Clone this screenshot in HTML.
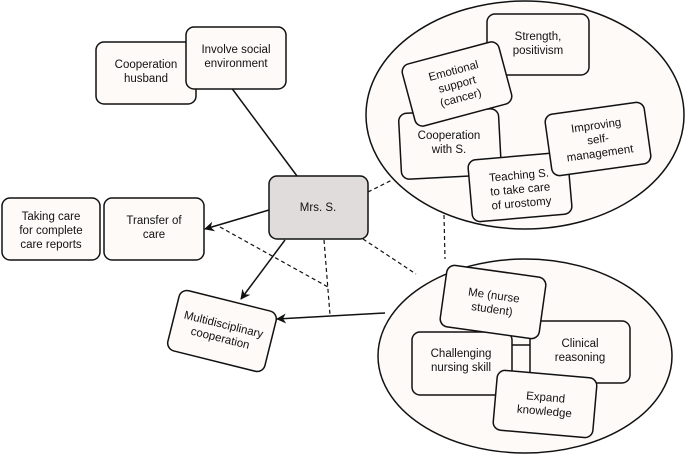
<!DOCTYPE html>
<html><head><meta charset="utf-8"><style>
html,body{margin:0;padding:0;background:#fff}
text{font-family:"Liberation Sans",Arial,sans-serif;font-size:11.5px;fill:#111;text-anchor:middle}
.b{fill:#fdfaf8;stroke:#111;stroke-width:1.5}
.l{stroke:#111;stroke-width:1.5;fill:none}
.d{stroke:#111;stroke-width:1.2;fill:none;stroke-dasharray:4,3}
</style></head><body>
<svg width="685" height="456" viewBox="0 0 685 456" xmlns="http://www.w3.org/2000/svg">
<defs><marker id="a" markerWidth="10" markerHeight="10" refX="9" refY="5" orient="auto" markerUnits="userSpaceOnUse"><path d="M0,0 L10,5 L0,10 L3,5 z" fill="#111"/></marker></defs>
<!-- ellipses -->
<ellipse cx="525" cy="115" rx="159" ry="114" class="b"/>
<ellipse cx="525" cy="356" rx="147" ry="97" class="b"/>
<!-- connectors -->
<line x1="297" y1="176" x2="219" y2="71" class="l" marker-end="url(#a)"/>
<line x1="269" y1="210" x2="205" y2="229" class="l" marker-end="url(#a)"/>
<line x1="285" y1="240" x2="241" y2="299" class="l" marker-end="url(#a)"/>
<line x1="385" y1="313" x2="277" y2="319" class="l" marker-end="url(#a)"/>
<polyline points="220,227 328,287" class="d"/>
<polyline points="324,240 330,315" class="d"/>
<polyline points="363,239 416,274" class="d"/>
<polyline points="368,192 394,179" class="d"/>
<polyline points="444,215 445,259" class="d"/>
<!-- left boxes -->
<rect x="96" y="42" width="100" height="62" rx="8" class="b"/>
<text x="146" y="68">Cooperation</text><text x="146" y="82">husband</text>
<rect x="186" y="27" width="100" height="62" rx="8" class="b"/>
<text x="236" y="53">Involve social</text><text x="236" y="67">environment</text>
<rect x="2" y="198" width="98" height="62" rx="8" class="b"/>
<text x="51" y="220">Taking care</text><text x="51" y="234">for complete</text><text x="51" y="248">care reports</text>
<rect x="104" y="198" width="100" height="62" rx="8" class="b"/>
<text x="154" y="224">Transfer of</text><text x="154" y="238">care</text>
<rect x="269" y="176" width="99" height="63" rx="8" fill="#e0dcdc" stroke="#111" stroke-width="1.5"/>
<text x="318" y="211">Mrs. S.</text>
<g transform="translate(222,331) rotate(14)">
<rect x="-50" y="-31" width="100" height="62" rx="8" class="b"/>
<text x="0" y="-3">Multidisciplinary</text><text x="0" y="11">cooperation</text></g>
<!-- ellipse 1 boxes -->
<rect x="487" y="14" width="102" height="61" rx="8" class="b"/>
<text x="538" y="40">Strength,</text><text x="538" y="54">positivism</text>
<rect x="400" y="111" width="100" height="66" rx="8" class="b" transform="rotate(-3 450 144)"/>
<text x="449" y="139">Cooperation</text><text x="449" y="153">with S.</text>
<g transform="translate(457,84) rotate(-15)">
<rect x="-50" y="-32" width="100" height="64" rx="8" class="b"/>
<text x="0" y="-10">Emotional</text><text x="0" y="4">support</text><text x="0" y="18">(cancer)</text></g>
<g transform="translate(520,187) rotate(-5)">
<rect x="-50" y="-31" width="100" height="62" rx="8" class="b"/>
<text x="0" y="-8">Teaching S.</text><text x="0" y="6">to take care</text><text x="0" y="20">of urostomy</text></g>
<g transform="translate(598,139) rotate(-8)">
<rect x="-50" y="-31" width="100" height="62" rx="8" class="b"/>
<text x="0" y="-10">Improving</text><text x="0" y="4">self-</text><text x="0" y="18">management</text></g>
<!-- ellipse 2 boxes -->
<rect x="530" y="321" width="100" height="62" rx="8" class="b"/>
<text x="580" y="347">Clinical</text><text x="580" y="361">reasoning</text>
<rect x="412" y="332" width="100" height="63" rx="8" class="b"/>
<text x="461" y="357">Challenging</text><text x="461" y="371">nursing skill</text>
<line x1="512" y1="345" x2="530" y2="345" class="l"/>
<g transform="translate(493,302) rotate(8)">
<rect x="-50" y="-31" width="100" height="62" rx="8" class="b"/>
<text x="0" y="-3">Me (nurse</text><text x="0" y="11">student)</text></g>
<g transform="translate(545,404) rotate(5)">
<rect x="-50" y="-30" width="100" height="60" rx="8" class="b"/>
<text x="0" y="-3">Expand</text><text x="0" y="11">knowledge</text></g>
</svg>
</body></html>
